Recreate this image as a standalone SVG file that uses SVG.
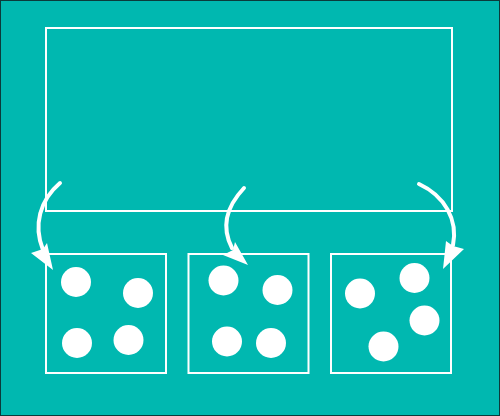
<svg xmlns="http://www.w3.org/2000/svg" width="500" height="416" viewBox="0 0 500 416">
<style>
.frame{fill:none;stroke:#ffffff;stroke-width:2}
.dot{fill:#ffffff}
.shaft{fill:none;stroke:#ffffff;stroke-width:4;stroke-linecap:round}
.head{fill:#ffffff}
</style>
<rect x="0.5" y="0.5" width="499" height="415" fill="#00b8b0" stroke="#0b3b3b" stroke-width="1"/>
<g id="container"><rect class="frame" x="46" y="28" width="406" height="183"/></g>
<g id="box1">
<rect class="frame" x="46" y="254" width="120" height="119"/>
<circle class="dot" cx="76" cy="282" r="15"/>
<circle class="dot" cx="138" cy="293" r="15"/>
<circle class="dot" cx="77" cy="343" r="15"/>
<circle class="dot" cx="128.5" cy="340" r="15"/>
</g>
<g id="box2">
<rect class="frame" x="188.5" y="254" width="120" height="119"/>
<circle class="dot" cx="223.5" cy="280.5" r="15"/>
<circle class="dot" cx="277.5" cy="290" r="15"/>
<circle class="dot" cx="227" cy="341.5" r="15"/>
<circle class="dot" cx="271" cy="343" r="15"/>
</g>
<g id="box3">
<rect class="frame" x="331" y="254" width="120" height="119"/>
<circle class="dot" cx="360" cy="293.5" r="15"/>
<circle class="dot" cx="414.5" cy="278" r="15"/>
<circle class="dot" cx="424.5" cy="320.5" r="15"/>
<circle class="dot" cx="383.5" cy="346.5" r="15"/>
</g>
<g id="connectors">
<path class="shaft" d="M60,183 C40,200 33,225 43,250"/>
<polygon class="head" points="31,253 53,270 47,243 43,249"/>
<path class="shaft" d="M244,188 C228,205 220,225 232,248"/>
<polygon class="head" points="223,255 248,265 235,242 233,250"/>
<path class="shaft" d="M419,184 C445,196 458,220 453,245"/>
<polygon class="head" points="464,249 443,269 446,241 453,246"/>
</g>
</svg>
